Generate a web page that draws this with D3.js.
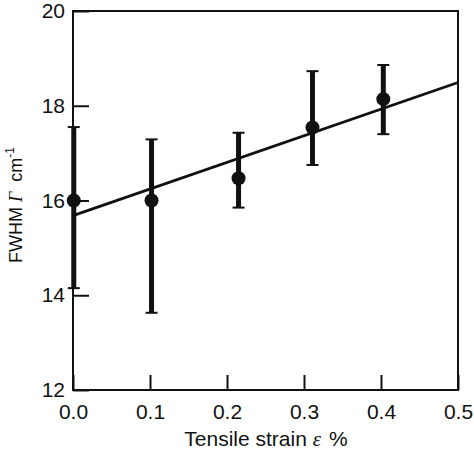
<!doctype html>
<html lang="en">
  <head>
    <meta charset="utf-8">
    <title>FWHM vs tensile strain</title>
    <script src="https://d3js.org/d3.v7.min.js"></script>
    <style>
      body { margin: 0; background: white; }
      text { font-family: "Liberation Sans", Arial, sans-serif; fill: #111; }
    </style>
  </head>
  <body>
    <svg width="474" height="454"></svg>
    <script>
      // data
      var strain = [0.001, 0.102, 0.215, 0.311, 0.403];
      var fwhm   = [16.0, 16.0, 16.47, 17.54, 18.14];
      var errHi  = [17.55, 17.29, 17.43, 18.73, 18.86];
      var errLo  = [14.15, 13.63, 15.85, 16.75, 17.40];
      var fitX   = [0.0, 0.5];
      var fitY   = [15.68, 18.49];
      var xTicks = [0.0, 0.1, 0.2, 0.3, 0.4, 0.5];
      var yTicks = [12, 14, 16, 18, 20];

      var svg = d3.select('svg');
      var m = { left: 73, right: 458, top: 11, bottom: 390 };

      var x = d3.scaleLinear().domain([0, 0.5]).range([m.left, m.right]);
      var y = d3.scaleLinear().domain([12, 20]).range([m.bottom, m.top]);

      // inner ticks
      var yAxis = svg.append('g')
        .attr('transform', 'translate(' + m.left + ',0)')
        .call(d3.axisLeft(y).tickValues(yTicks).tickSizeInner(-16).tickSizeOuter(0).tickPadding(8));
      var xAxis = svg.append('g')
        .attr('transform', 'translate(0,' + m.bottom + ')')
        .call(d3.axisBottom(x).tickValues(xTicks).tickFormat(d3.format('.1f'))
          .tickSizeInner(-15).tickSizeOuter(0).tickPadding(14));

      [xAxis, yAxis].forEach(function(a) {
        a.attr('font-size', null).attr('font-family', null);
        a.select('.domain').remove();
        a.selectAll('line').attr('stroke', '#111').attr('stroke-width', 2);
        a.selectAll('text').style('font-size', '21px').attr('fill', '#111');
      });

      // frame
      svg.append('rect')
        .attr('x', m.left).attr('y', m.top)
        .attr('width', m.right - m.left).attr('height', m.bottom - m.top)
        .attr('fill', 'none').attr('stroke', '#111').attr('stroke-width', 2);

      // linear fit
      var line = d3.line()
        .x(function(d) { return x(d[0]); })
        .y(function(d) { return y(d[1]); });
      svg.append('path')
        .datum(d3.zip(fitX, fitY))
        .attr('d', line)
        .attr('fill', 'none').attr('stroke', '#111').attr('stroke-width', 2.8);

      var pts = d3.range(strain.length).map(function(i) {
        return { x: strain[i], y: fwhm[i], hi: errHi[i], lo: errLo[i] };
      });

      var g = svg.append('g');
      g.selectAll('line.bar').data(pts).enter().append('line')
        .attr('x1', function(d) { return x(d.x); })
        .attr('x2', function(d) { return x(d.x); })
        .attr('y1', function(d) { return y(d.hi); })
        .attr('y2', function(d) { return y(d.lo); })
        .attr('stroke', '#111').attr('stroke-width', 5);

      ['hi', 'lo'].forEach(function(k) {
        g.selectAll('line.cap-' + k).data(pts).enter().append('line')
          .attr('x1', function(d) { return x(d.x) - 6; })
          .attr('x2', function(d) { return x(d.x) + 6; })
          .attr('y1', function(d) { return y(d[k]); })
          .attr('y2', function(d) { return y(d[k]); })
          .attr('stroke', '#111').attr('stroke-width', 2);
      });

      g.selectAll('circle').data(pts).enter().append('circle')
        .attr('cx', function(d) { return x(d.x); })
        .attr('cy', function(d) { return y(d.y); })
        .attr('r', 7)
        .attr('fill', '#111');

      // axis titles
      svg.append('text')
        .attr('x', 266).attr('y', 446)
        .attr('text-anchor', 'middle')
        .style('font-size', '21px')
        .html('Tensile strain <tspan font-family="Liberation Serif, serif" font-style="italic">ε</tspan><tspan dx="8">%</tspan>');

      svg.append('text')
        .attr('transform', 'translate(22,205) rotate(-90)')
        .attr('text-anchor', 'middle')
        .style('font-size', '18px')
        .html('FWHM <tspan font-family="Liberation Serif, serif" font-style="italic">Γ</tspan><tspan dx="10">cm</tspan><tspan dy="-8" font-size="12px">-1</tspan>');
    </script>
  </body>
</html>
